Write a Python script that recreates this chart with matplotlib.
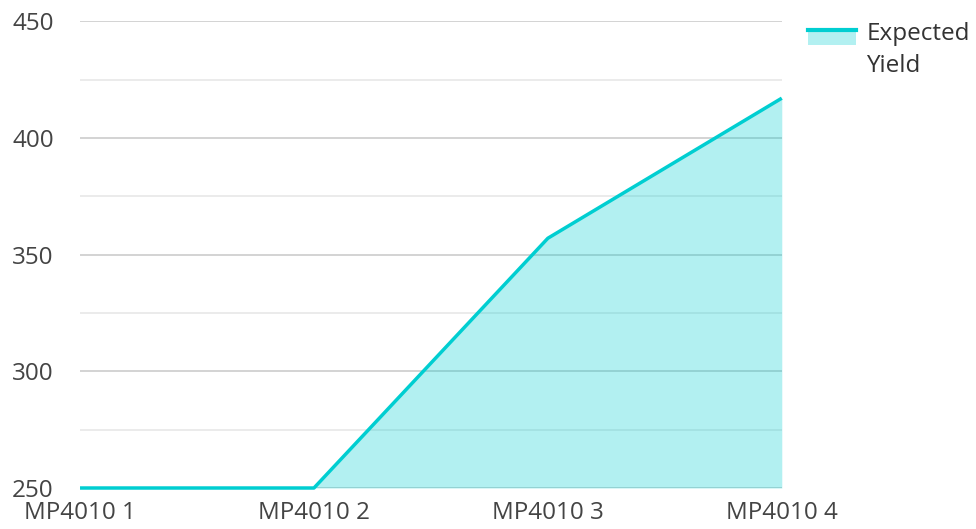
"""Expected yield by product, area chart."""

import matplotlib.pyplot as plt
from matplotlib.legend_handler import HandlerBase
from matplotlib.lines import Line2D
from matplotlib.patches import Rectangle
from matplotlib.ticker import MultipleLocator

plt.rcParams["font.family"] = ["Open Sans", "DejaVu Sans"]

categories = ["MP4010 1", "MP4010 2", "MP4010 3", "MP4010 4"]
expected_yield = [250, 250, 357, 417]

LINE_COLOR = "#00CED1"
TEXT_COLOR = "#444444"


class _AreaHandler(HandlerBase):
    """Legend key: thin filled block with a line along its top, level with the first text line."""

    def create_artists(self, legend, orig_handle, xdescent, ydescent,
                       width, height, fontsize, trans):
        lift = 9.5
        patch = Rectangle((-xdescent, -ydescent + lift), width, height,
                          facecolor=LINE_COLOR, alpha=0.3, edgecolor="none",
                          transform=trans)
        line = Line2D([-xdescent, -xdescent + width],
                      [-ydescent + lift + height] * 2,
                      color=LINE_COLOR, linewidth=3, transform=trans)
        return [patch, line]


def main():
    figure = plt.figure(figsize=(9.76, 5.29), dpi=100)
    axes = figure.add_axes([0.082, 0.0775, 0.719, 0.8825])

    x = list(range(len(categories)))
    axes.fill_between(x, expected_yield, 250, color=LINE_COLOR, alpha=0.3,
                      linewidth=0, zorder=3)
    axes.plot(x, expected_yield, color=LINE_COLOR, linewidth=2.5, zorder=4,
              solid_capstyle="butt", clip_on=False)

    axes.set_xlim(0, len(categories) - 1)
    axes.set_ylim(250, 450)
    axes.set_xticks(x)
    axes.set_xticklabels(categories)
    axes.yaxis.set_major_locator(MultipleLocator(50))
    axes.yaxis.set_minor_locator(MultipleLocator(25))
    axes.grid(axis="y", which="major", color="#c8c8c8", linewidth=1.1, zorder=1)
    axes.grid(axis="y", which="minor", color="#e6e6e6", linewidth=1.1, zorder=1)
    axes.grid(axis="x", visible=False)
    axes.set_axisbelow(True)
    for spine in axes.spines.values():
        spine.set_visible(False)
    axes.tick_params(axis="both", which="both", length=0, labelsize=17.5,
                     labelcolor=TEXT_COLOR)
    axes.tick_params(axis="y", pad=19)
    axes.tick_params(axis="x", pad=9)

    legend = axes.legend([object()], ["Expected\nYield"],
                         handler_map={object: _AreaHandler()},
                         loc="upper left", bbox_to_anchor=(1.006, 1.045),
                         frameon=False, fontsize=17.5, handlelength=2.0,
                         handleheight=0.55, handletextpad=0.4,
                         labelcolor="#333333")
    legend.get_texts()[0].set_linespacing(1.45)

    figure.savefig("out.png", dpi=100)


if __name__ == "__main__":
    main()
